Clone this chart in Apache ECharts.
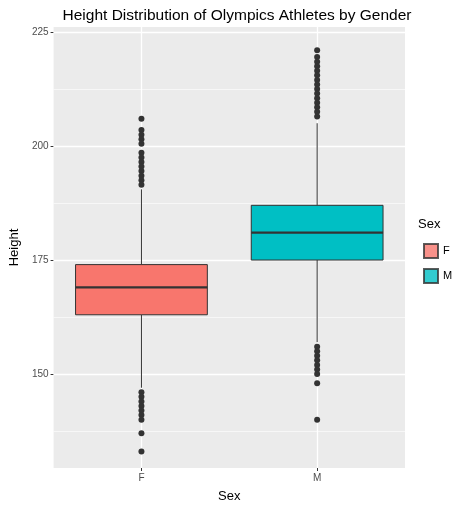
<!DOCTYPE html>
<html><head><meta charset="utf-8">
<script src="https://cdn.jsdelivr.net/npm/echarts@6/dist/echarts.min.js"></script>
<style>html,body{margin:0;padding:0;background:#fff}#c{width:474px;height:513px}</style>
</head><body><div id="c"></div>
<script>
const categories = ['F', 'M'];
// [min whisker, Q1, median, Q3, max whisker]
const boxF = [147, 163, 169, 174, 190.5];
const boxM = [157, 175, 181, 187, 205];
const outF = [206, 203.5, 202.5, 201.5, 200.5, 198.5, 197.5, 196.5, 195.5, 194.5, 193.5, 192.5, 191.5, 146, 145, 144, 143, 142, 141, 140, 137, 133];
const outM = [221, 219.5, 218.5, 217.5, 216.5, 215.5, 214.5, 213.5, 212.5, 211.5, 210.5, 209.5, 208.5, 207.5, 206.5, 156, 155, 154, 153, 152, 151, 150, 148, 140];
const yTicks = [150, 175, 200, 225];
const yMinor = [137.5, 162.5, 187.5, 212.5];
const colors = ['#F8766D', '#00BFC4'];

const outliers = [];
outF.forEach(v => outliers.push(['F', v]));
outM.forEach(v => outliers.push(['M', v]));
const boxes = [[0].concat(boxF), [1].concat(boxM)];

function renderBox(params, api) {
  const i = api.value(0);
  const x = api.coord([i, 0])[0];
  const bw = api.size([1, 0])[0] * 0.75 / 2;
  const y = k => api.coord([i, api.value(k)])[1];
  const ln = (x1, y1, x2, y2, w) => ({ type: 'line', shape: { x1, y1, x2, y2 }, style: { stroke: '#333', lineWidth: w } });
  return { type: 'group', children: [
    ln(x, y(1), x, y(2), 1),
    ln(x, y(4), x, y(5), 1),
    { type: 'rect', shape: { x: x - bw, y: y(4), width: 2 * bw, height: y(2) - y(4) },
      style: { fill: colors[i], stroke: '#333', lineWidth: 1 } },
    ln(x - bw, y(3), x + bw, y(3), 2.2)
  ] };
}

const chart = echarts.init(document.getElementById('c'));
chart.setOption({
  animation: false,
  title: { text: 'Height Distribution of Olympics Athletes by Gender', left: 232, textAlign: 'center', top: 3,
    textStyle: { fontFamily: 'Liberation Sans', fontSize: 15.5, fontWeight: 'normal', color: '#000' } },
  grid: { left: 48, right: 69, top: 27, bottom: 45, show: true, backgroundColor: '#EBEBEB', borderWidth: 0 },
  legend: { orient: 'vertical', left: 418, top: 238, itemWidth: 14, itemHeight: 14, itemGap: 9,
    data: ['F', 'M'], icon: 'rect',
    textStyle: { fontFamily: 'Liberation Sans', fontSize: 11, color: '#000' } },
  graphic: [{ type: 'text', left: 418, top: 218, style: { text: 'Sex', font: '13px Liberation Sans', fill: '#000' } }],
  xAxis: { type: 'category', data: categories, name: 'Sex', nameLocation: 'middle', nameGap: 22,
    nameTextStyle: { fontFamily: 'Liberation Sans', fontSize: 13, color: '#000' },
    axisLine: { show: false }, axisTick: { show: true, alignWithLabel: true, lineStyle: { color: '#333' }, length: 3 },
    axisLabel: { fontFamily: 'Liberation Sans', fontSize: 10, color: '#4D4D4D', margin: 5 }, splitLine: { show: false } },
  yAxis: { type: 'value', min: 129.4, max: 226.1, name: 'Height', nameLocation: 'middle', nameGap: 30,
    nameTextStyle: { fontFamily: 'Liberation Sans', fontSize: 13, color: '#000' },
    axisLine: { show: false }, axisTick: { show: true, customValues: yTicks, length: 3, lineStyle: { color: '#333' } },
    axisLabel: { customValues: yTicks, fontFamily: 'Liberation Sans', fontSize: 10, color: '#4D4D4D', margin: 5 },
    splitLine: { show: false } },
  series: [
    { type: 'scatter', silent: true, data: [], z: 1,
      markLine: { silent: true, symbol: 'none', label: { show: false }, z: 1,
        data: yMinor.map(v => ({ yAxis: v, lineStyle: { color: '#fff', width: 0.6, type: 'solid' } }))
          .concat(yTicks.map(v => ({ yAxis: v, lineStyle: { color: '#fff', width: 1.3, type: 'solid' } })))
          .concat(categories.map(c => ({ xAxis: c, lineStyle: { color: '#fff', width: 1.3, type: 'solid' } }))) } },
    { type: 'custom', renderItem: renderBox, data: boxes, z: 5, encode: { x: 0, y: [1, 2, 3, 4, 5] } },
    { type: 'scatter', data: outliers, symbolSize: 6, z: 6, itemStyle: { color: '#333', opacity: 1 } },
    { name: 'F', type: 'scatter', data: [], itemStyle: { color: colors[0], borderColor: '#333', borderWidth: 1 } },
    { name: 'M', type: 'scatter', data: [], itemStyle: { color: colors[1], borderColor: '#333', borderWidth: 1 } }
  ]
});
</script></body></html>
